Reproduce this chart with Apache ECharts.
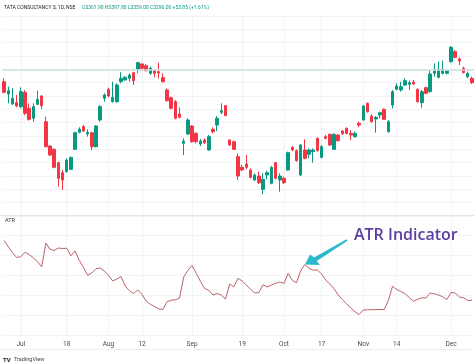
<!DOCTYPE html>
<html><head><meta charset="utf-8">
<script src="https://cdn.jsdelivr.net/npm/echarts@6/dist/echarts.min.js"></script>
<style>html,body{margin:0;padding:0;background:#fff}#c{width:474px;height:364px}</style>
</head><body><div id="c"></div>
<script>
const dates = [
"2022-06-27","2022-06-28","2022-06-29","2022-06-30",
"2022-07-01","2022-07-04","2022-07-05","2022-07-06","2022-07-07","2022-07-08","2022-07-11","2022-07-12","2022-07-13","2022-07-14","2022-07-15","2022-07-18","2022-07-19","2022-07-20","2022-07-21","2022-07-22","2022-07-25","2022-07-26","2022-07-27","2022-07-28","2022-07-29",
"2022-08-01","2022-08-02","2022-08-03","2022-08-04","2022-08-05","2022-08-08","2022-08-10","2022-08-11","2022-08-12","2022-08-16","2022-08-17","2022-08-18","2022-08-19","2022-08-22","2022-08-23","2022-08-24","2022-08-25","2022-08-26","2022-08-29","2022-08-30",
"2022-09-01","2022-09-02","2022-09-05","2022-09-06","2022-09-07","2022-09-08","2022-09-09","2022-09-12","2022-09-13","2022-09-14","2022-09-15","2022-09-16","2022-09-19","2022-09-20","2022-09-21","2022-09-22","2022-09-23","2022-09-26","2022-09-27","2022-09-28","2022-09-29","2022-09-30",
"2022-10-03","2022-10-04","2022-10-06","2022-10-07","2022-10-10","2022-10-11","2022-10-12","2022-10-13","2022-10-14","2022-10-17","2022-10-18","2022-10-19","2022-10-20","2022-10-21","2022-10-24","2022-10-25","2022-10-27","2022-10-28","2022-10-31",
"2022-11-01","2022-11-02","2022-11-03","2022-11-04","2022-11-07","2022-11-09","2022-11-10","2022-11-11","2022-11-14","2022-11-15","2022-11-16","2022-11-17","2022-11-18","2022-11-21","2022-11-22","2022-11-23","2022-11-24","2022-11-25","2022-11-28","2022-11-29","2022-11-30",
"2022-12-01","2022-12-02","2022-12-05","2022-12-06","2022-12-07","2022-12-08"];

const opens = [3363,3326,3296,3300,3288,3331,3283,3253,3295,3320,3243,3170,3160,3120,3090,3093,3100,3160,3211,3228,3206,3210,3168,3248,3313,3340,3303,3303,3363,3368,3373,3390,3400,3416,3411,3388,3396,3393,3375,3338,3315,3303,3266,3178,3206,3230,3208,3176,3188,3158,3220,3233,3271,3291,3188,3183,3138,3106,3116,3098,3068,3080,3040,3083,3058,3120,3068,3073,3098,3166,3156,3083,3158,3145,3153,3193,3136,3198,3205,3160,3203,3215,3223,3208,3198,3238,3248,3298,3260,3251,3263,3280,3213,3293,3340,3338,3353,3355,3362,3340,3300,3345,3333,3388,3376,3388,3388,3423,3453,3431,3403,3378,3373];
const closes = [3331,3336,3313,3290,3333,3268,3250,3288,3310,3291,3168,3143,3106,3073,3068,3128,3136,3210,3221,3215,3211,3168,3230,3288,3323,3320,3316,3353,3373,3376,3383,3366,3420,3403,3396,3403,3388,3389,3363,3306,3283,3253,3256,3185,3248,3183,3183,3185,3180,3198,3213,3253,3276,3261,3173,3160,3080,3098,3106,3076,3083,3060,3070,3090,3106,3073,3080,3060,3150,3158,3126,3173,3133,3158,3158,3156,3168,3193,3173,3205,3186,3207,3208,3203,3208,3233,3290,3273,3243,3256,3270,3250,3243,3333,3350,3348,3366,3360,3356,3303,3333,3328,3386,3396,3400,3400,3395,3466,3436,3425,3390,3388,3360];
const lows = [3328,3298,3293,3286,3283,3263,3246,3243,3293,3281,3166,3140,3103,3048,3038,3090,3098,3158,3208,3212,3198,3158,3166,3243,3303,3316,3300,3300,3358,3366,3363,3353,3388,3400,3393,3383,3376,3373,3360,3303,3280,3250,3253,3143,3203,3180,3178,3170,3176,3156,3208,3215,3266,3260,3170,3158,3068,3096,3100,3073,3066,3056,3025,3070,3055,3070,3033,3056,3096,3155,3123,3080,3130,3133,3120,3153,3133,3190,3170,3158,3183,3203,3205,3188,3195,3226,3246,3270,3240,3210,3253,3248,3210,3283,3338,3333,3350,3338,3353,3300,3285,3325,3330,3378,3373,3385,3385,3420,3433,3413,3388,3373,3356];
const highs = [3373,3348,3343,3323,3346,3338,3298,3298,3336,3323,3258,3173,3163,3123,3098,3133,3138,3213,3226,3233,3220,3213,3233,3293,3328,3345,3363,3358,3391,3380,3388,3393,3423,3418,3416,3408,3400,3420,3388,3343,3318,3308,3286,3193,3253,3233,3211,3191,3193,3203,3226,3260,3298,3293,3190,3186,3148,3113,3143,3103,3088,3093,3088,3096,3110,3123,3088,3078,3153,3170,3160,3176,3190,3163,3163,3196,3173,3203,3208,3208,3206,3218,3226,3218,3213,3243,3293,3300,3266,3260,3273,3283,3248,3338,3358,3363,3373,3366,3368,3343,3338,3348,3396,3418,3423,3426,3398,3470,3458,3436,3408,3393,3378];
const atr = [85.8,83.3,81.0,79.0,79.3,81.1,80.2,78.9,77.3,75.3,84.8,82.3,81.8,82.8,82.6,82.7,79.7,81.6,77.8,75.1,71.9,72.8,74.5,74.8,73.6,71.9,69.6,70.4,71.4,67.6,65.7,64.6,66.0,64.3,61.6,60.3,59.4,58.5,58.2,61.3,61.9,62.1,62.8,71.2,73.9,75.8,72.7,69.5,66.6,65.9,64.0,64.6,64.0,62.4,68.4,67.3,70.7,69.6,68.0,66.3,64.8,65.0,68.1,67.2,68.0,68.7,69.2,68.6,72.6,69.9,68.9,73.7,76.2,74.7,73.9,74.0,72.4,70.0,68.3,66.5,64.0,62.1,60.5,58.8,57.3,56.2,58.0,58.1,58.1,58.2,58.2,58.2,61.8,67.5,66.2,65.4,64.5,63.0,61.5,62.3,62.9,62.8,64.8,64.5,64.0,63.3,62.2,65.0,64.8,63.2,62.9,61.8,61.9];
const tickLabels = {"2022-07-01":"Jul","2022-07-18":"18","2022-08-01":"Aug","2022-08-12":"12","2022-09-01":"Sep","2022-09-19":"19","2022-10-03":"Oct","2022-10-17":"17","2022-11-01":"Nov","2022-11-14":"14","2022-12-01":"Dec"};
const priceLine = 3400;
const headerName = "TATA CONSULTANCY S, 1D, NSE";
const headerValues = "O3361.90 H3397.80 L3359.00 C3296.00 +53.85 (+1.61%)";

const UP = '#089981', DOWN = '#f23645', GRID = '#f2f3f7';
const isTick = (idx, val) => tickLabels[val] !== undefined;
const ohlc = dates.map((d, i) => [opens[i], closes[i], lows[i], highs[i]]);

const chart = echarts.init(document.getElementById('c'), null, {renderer: 'canvas'});
const xCommon = {
  type: 'category', data: dates, boundaryGap: true,
  axisLine: {show: false}, axisTick: {show: false},
  splitLine: {show: true, interval: isTick, alignWithLabel: true, lineStyle: {color: GRID, width: 1}}
};
chart.setOption({
  animation: false,
  backgroundColor: '#ffffff',
  grid: [
    {left: 2, right: 0, top: 16, height: 200},
    {left: 2, right: 0, top: 215, height: 120}
  ],
  xAxis: [
    Object.assign({gridIndex: 0, axisLabel: {show: false, interval: isTick}}, xCommon),
    Object.assign({gridIndex: 1, axisLabel: {show: true, interval: isTick, formatter: v => tickLabels[v] || '', fontSize: 6.5, color: '#4a4a4a', margin: 6, fontFamily: 'Roboto'}}, xCommon)
  ],
  yAxis: [
    {gridIndex: 0, type: 'value', min: 2960, max: 3560, interval: 40, show: true, axisLabel: {show: false}, axisLine: {show: false}, axisTick: {show: false}, splitLine: {show: true, lineStyle: {color: GRID}}},
    {gridIndex: 1, type: 'value', min: 48, max: 96, interval: 8, show: true, axisLabel: {show: false}, axisLine: {show: false}, axisTick: {show: false}, splitLine: {show: true, lineStyle: {color: GRID}}}
  ],
  series: [
    {
      type: 'candlestick', xAxisIndex: 0, yAxisIndex: 0, data: ohlc, barWidth: 3,
      itemStyle: {color: UP, color0: DOWN, borderColor: UP, borderColor0: DOWN, borderWidth: 1},
      markLine: {silent: true, symbol: 'none', label: {show: false}, lineStyle: {color: '#cddedb', width: 1.5, type: 'solid'}, data: [{yAxis: priceLine}]}
    },
    {
      type: 'line', xAxisIndex: 1, yAxisIndex: 1, data: atr, showSymbol: false, symbol: 'none',
      lineStyle: {color: '#bb6266', width: 1}
    }
  ],
  graphic: [
    {type: 'line', shape: {x1: 0, y1: 215.5, x2: 474, y2: 215.5}, style: {stroke: '#e3e5ea', lineWidth: 1}, z: 10},
    {type: 'line', shape: {x1: 0, y1: 349.5, x2: 474, y2: 349.5}, style: {stroke: '#eceef2', lineWidth: 1}, z: 10},
    {type: 'text', left: 4, top: 2, z: 20, style: {
      text: '{n|' + headerName + '}  {v|' + headerValues + '}',
      rich: {n: {fontSize: 5, fill: '#222', fontFamily: 'Roboto'}, v: {fontSize: 5, fill: UP, fontFamily: 'Roboto'}}
    }},
    {type: 'text', left: 5, top: 218, z: 20, style: {text: 'ATR', fontSize: 5.5, fill: '#333', fontFamily: 'Roboto'}},
    {type: 'text', left: 3, top: 354, z: 20, style: {
      text: '{l|TV} {t|TradingView}',
      rich: {l: {fontSize: 6, fontWeight: 'bold', fill: '#131722', fontFamily: 'Roboto'}, t: {fontSize: 5.5, fill: '#444', fontFamily: 'Roboto'}}
    }},
    {type: 'polygon', z: 30, shape: {points: [[347.5,240.8],[316.8,261],[320,265],[305,264.5],[310,254.5],[314.2,257.6],[346.5,239.2]]}, style: {fill: '#2bbacb'}},
    {type: 'text', left: 354, top: 227, z: 30, style: {text: 'ATR Indicator', fontSize: 16, fontWeight: 600, fill: '#5b3d9e', fontFamily: 'Open Sans'}}
  ]
});
</script>
</body></html>
